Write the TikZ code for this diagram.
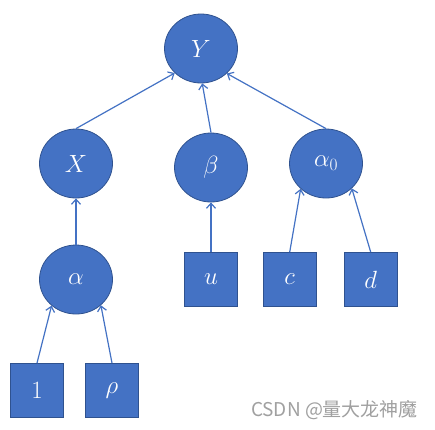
\documentclass[tikz,border=0pt]{standalone}
\usepackage{fontspec}
\usetikzlibrary{shapes.geometric,arrows.meta}
\newfontfamily\cjkfont{Noto Sans CJK SC}
\definecolor{nodefill}{HTML}{4472C4}
\definecolor{nodeline}{HTML}{2F528F}
\definecolor{edgecol}{HTML}{4472C4}
\definecolor{wmgray}{HTML}{A0A0A0}
\begin{document}
\begin{tikzpicture}[x=1pt,y=-1pt,
  roundnode/.style={ellipse,draw=nodeline,fill=nodefill,line width=0.8pt,
    minimum width=73pt,minimum height=69pt,inner sep=0pt,text=white,
    font=\fontsize{26}{30}\selectfont},
  boxnode/.style={rectangle,draw=nodeline,fill=nodefill,line width=0.8pt,
    minimum width=53pt,minimum height=54pt,inner sep=0pt,text=white,
    font=\fontsize{26}{30}\selectfont},
  edge/.style={draw=edgecol,line width=1.2pt,-{Straight Barb[length=5pt,width=9pt,line width=1.2pt]}}
]
\useasboundingbox (0,0) rectangle (435,429);
\fill[white] (0,0) rectangle (435,429);
\node[roundnode] (Y) at (201,48.5) {$Y$};
\node[roundnode] (X) at (76,163.5) {$X$};
\node[roundnode] (beta) at (211,167.5) {$\beta$};
\node[roundnode] (a0) at (326,163.5) {$\alpha_0$};
\node[roundnode] (alpha) at (76,279.5) {$\alpha$};
\node[boxnode] (u) at (211,279.5) {$u$};
\node[boxnode] (c) at (289.7,279.5) {$c$};
\node[boxnode] (d) at (370.7,279.5) {$d$};
\node[boxnode] (one) at (37,390.5) {$1$};
\node[boxnode] (rho) at (112,390.5) {$\rho$};
\draw[edge] (one.north) -- (alpha.227);
\draw[edge] (rho.north) -- (alpha.-46);
\draw[edge] (alpha.north) -- (X.south);
\draw[edge] (X.north) -- (Y.223);
\draw[edge] (beta.north) -- (Y.-88);
\draw[edge] (a0.north) -- (Y.-44);
\draw[edge] (u.north) -- (beta.south);
\draw[edge] (c.north) -- (a0.225);
\draw[edge] (d.north) -- (a0.-44);
\node[text=wmgray,font=\cjkfont\fontsize{19}{22}\selectfont,inner sep=0pt] (wm) at (334.5,410.5) {CSDN @量大龙神魔};
\end{tikzpicture}
\end{document}
